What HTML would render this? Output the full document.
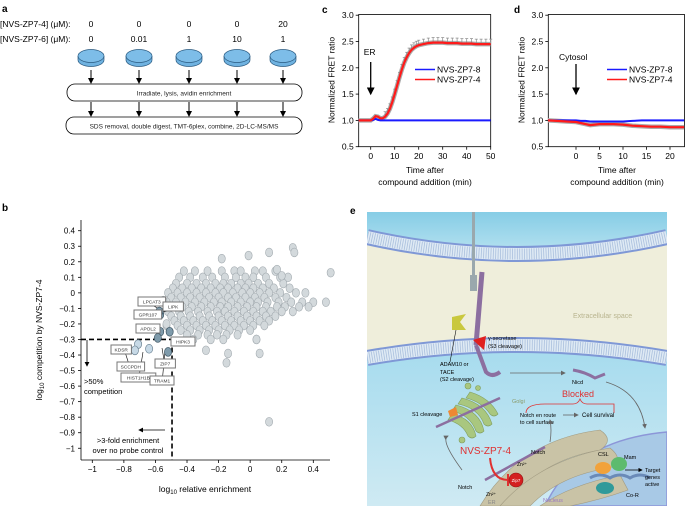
<!DOCTYPE html>
<html><head><meta charset="utf-8"><style>
html,body{margin:0;padding:0;background:#fff;width:685px;height:506px;overflow:hidden;}
svg{display:block;font-family:"Liberation Sans",sans-serif;overflow:hidden;}
</style></head><body>
<svg id="fig" width="685" height="506" viewBox="0 0 685 506" xmlns="http://www.w3.org/2000/svg">
<defs>
<clipPath id="eclip"><rect x="367" y="212" width="300" height="294"/></clipPath>
<clipPath id="dclip"><rect x="548" y="10" width="137" height="140"/></clipPath>
<linearGradient id="cyto" x1="0" y1="0" x2="0" y2="1"><stop offset="0" stop-color="#a5dbee"/><stop offset="1" stop-color="#cfeaf3"/></linearGradient>
<linearGradient id="topsky" x1="0" y1="0" x2="0" y2="1"><stop offset="0" stop-color="#86cde6"/><stop offset="1" stop-color="#b7e2f0"/></linearGradient>
<marker id="ah" markerWidth="6" markerHeight="6" refX="5" refY="3" orient="auto"><path d="M0,0 L6,3 L0,6 z" fill="#000"/></marker>
<marker id="ahg" markerWidth="6" markerHeight="6" refX="5" refY="3" orient="auto"><path d="M0,0 L6,3 L0,6 z" fill="#666"/></marker>
</defs>

<g font-weight="bold" font-size="10">
<text x="2" y="12">a</text>
<text x="322" y="13">c</text>
<text x="514" y="13">d</text>
<text x="2" y="211">b</text>
<text x="350" y="214">e</text>
</g>

<g id="panelA" font-size="8.5">
<text x="0" y="27">[NVS-ZP7-4] (μM):</text>
<text x="0" y="42">[NVS-ZP7-6] (μM):</text>
<rect x="67" y="84" width="235" height="17" rx="8" fill="#fff" stroke="#000" stroke-width="0.8"/>
<text x="184" y="95.5" font-size="6.5" text-anchor="middle" fill="#222">Irradiate, lysis, avidin enrichment</text>
<rect x="66" y="117" width="236" height="17" rx="8" fill="#fff" stroke="#000" stroke-width="0.8"/>
<text x="184" y="128.5" font-size="6.5" text-anchor="middle" fill="#222">SDS removal, double digest, TMT-6plex, combine, 2D-LC-MS/MS</text>
</g>

<g id="panelC"></g>
<g id="panelD"></g>
<g id="panelB"></g>

<g clip-path="url(#eclip)">
<rect x="367" y="212" width="300" height="294" fill="#efeedb"/>
<path d="M367,212 H667 V237 Q517,271 367,237 Z" fill="url(#topsky)"/>
<path d="M367,237 Q517,271 667,237" fill="none" stroke="#7f98d6" stroke-width="16"/>
<path d="M367,237 Q517,271 667,237" fill="none" stroke="#dfeaf4" stroke-width="12"/>
<path d="M367,237 Q517,271 667,237" fill="none" stroke="#a9bfdd" stroke-width="11" stroke-dasharray="0.8 1.6"/>
<path d="M367,358 Q517,332 667,358 V506 H367 Z" fill="url(#cyto)"/>
<path d="M367,358 Q517,332 667,358" fill="none" stroke="#7f98d6" stroke-width="16"/>
<path d="M367,358 Q517,332 667,358" fill="none" stroke="#dfeaf4" stroke-width="12"/>
<path d="M367,358 Q517,332 667,358" fill="none" stroke="#a9bfdd" stroke-width="11" stroke-dasharray="0.8 1.6"/>
<path d="M545,506 Q575,440 667,432 V506 Z" fill="#a8c9e6" stroke="#8c96d8" stroke-width="1.5"/>
<text x="573" y="318" font-size="7" fill="#b8b48e">Extracellular space</text>
<rect x="472" y="212" width="3" height="70" fill="#9aa8ad"/>
<rect x="470" y="275" width="7" height="16" fill="#9aa8ad"/>
<path d="M482,272 L476,345" stroke="#8c6fa0" stroke-width="5"/>
<path d="M476,345 L486,372 Q492,378 500,372" stroke="#8c6fa0" stroke-width="4" fill="none"/>
<path d="M452,317 L466,314 L460,322 L466,330 L452,330 Z" fill="#c9c83e"/>
<path d="M473,340 L486,336 L484,350 Z" fill="#e02020"/>
<line x1="456" y1="330" x2="450" y2="362" stroke="#000" stroke-width="0.6"/>
<text x="488" y="340" font-size="5.5">γ-secretase</text>
<text x="488" y="348" font-size="5.5">(S3 cleavage)</text>
<text x="440" y="366" font-size="5.5">ADAM10 or</text>
<text x="440" y="374" font-size="5.5">TACE</text>
<text x="440" y="381" font-size="5.5">(S2 cleavage)</text>
<line x1="510" y1="373" x2="565" y2="373" stroke="#666" stroke-width="0.8" marker-end="url(#ahg)"/>
<path d="M573,370 Q585,372 595,378 L605,374" stroke="#8c6fa0" stroke-width="3" fill="none"/>
<text x="572" y="384" font-size="5.5">Nicd</text>
<path d="M606,382 Q640,392 645,428" stroke="#666" stroke-width="0.8" fill="none" marker-end="url(#ahg)"/>
<text x="562" y="397" font-size="9" fill="#e03030">Blocked</text>
<path d="M526,413 Q526,404 545,404 L573,404 Q578,404 580,399 Q582,404 587,404 L614,404 Q614,404 614,413" stroke="#e03030" stroke-width="0.8" fill="none"/>
<text x="520" y="417" font-size="5.5">Notch en route</text>
<text x="520" y="424" font-size="5.5">to cell surface</text>
<line x1="563" y1="415" x2="578" y2="415" stroke="#666" stroke-width="0.8" marker-end="url(#ahg)"/>
<text x="582" y="417" font-size="6">Cell survival</text>
<g fill="#a9c77f" stroke="#7f9d5c" stroke-width="0.6">
<path d="M470,392 q20,6 28,22 q-4,4 -8,0 q-8,-12 -24,-16 z"/>
<path d="M462,398 q24,6 30,26 q-4,4 -8,0 q-6,-16 -26,-20 z"/>
<path d="M456,405 q24,6 28,26 q-4,4 -8,0 q-6,-16 -24,-20 z"/>
<path d="M452,414 q20,4 24,22 q-4,4 -8,0 q-5,-12 -20,-16 z"/>
<circle cx="468" cy="386" r="3"/><circle cx="478" cy="388" r="2.5"/><circle cx="462" cy="440" r="3"/>
</g>
<text x="512" y="403" font-size="5.5" fill="#8a9a6a">Golgi</text>
<text x="412" y="416" font-size="5.5">S1 cleavage</text>
<path d="M448,411 l8,-4 l2,8 l-8,2 z" fill="#ee8833"/>
<path d="M436,427 L500,398" stroke="#8c6fa0" stroke-width="2.5"/>
<g fill="#c9c3a6" stroke="#a19a80" stroke-width="0.6">
<path d="M480,506 Q520,440 600,430 Q615,440 600,450 Q540,460 505,506 Z"/>
<path d="M500,506 Q540,460 610,448 Q625,460 610,468 Q560,475 530,506 Z"/>
<path d="M540,506 Q570,485 620,475 L628,490 Q600,500 570,506 Z"/>
</g>
<path d="M485,480 L545,447" stroke="#8c6fa0" stroke-width="2.5"/>
<path d="M462,470 Q440,440 448,436" stroke="#666" stroke-width="0.8" fill="none" marker-end="url(#ahg)"/>
<path d="M550,442 Q552,430 550,420" stroke="#666" stroke-width="0.8" fill="none" marker-end="url(#ahg)"/>
<text x="460" y="454" font-size="10" fill="#e03030">NVS-ZP7-4</text>
<path d="M490,458 Q492,480 508,480" stroke="#e03030" stroke-width="2" fill="none"/>
<line x1="508" y1="474" x2="508" y2="486" stroke="#e03030" stroke-width="2"/>
<circle cx="516" cy="480" r="7" fill="#d42020" stroke="#901010" stroke-width="0.6"/>
<text x="516" y="482" font-size="4.5" fill="#fff" text-anchor="middle">Zip7</text>
<text x="531" y="454" font-size="5.5">Notch</text>
<text x="517" y="466" font-size="5">Zn²⁺</text>
<text x="458" y="489" font-size="5.5">Notch</text>
<text x="486" y="496" font-size="5">Zn²⁺</text>
<text x="488" y="504" font-size="5.5" fill="#888">ER</text>
<text x="543" y="502" font-size="5.5" fill="#9a78c0">Nucleus</text>
<path d="M590,478 q10,-6 20,0 q10,-6 20,0 q10,-6 20,0" stroke="#6a8ab8" stroke-width="3" fill="none"/>
<ellipse cx="603" cy="468" rx="8" ry="6" fill="#f2a23a"/>
<ellipse cx="619" cy="464" rx="8" ry="7" fill="#5dbb6e"/>
<ellipse cx="605" cy="488" rx="9" ry="6" fill="#2f9a9a"/>
<text x="598" y="456" font-size="5.5">CSL</text>
<text x="624" y="459" font-size="5.5">Mam</text>
<line x1="625" y1="470" x2="642" y2="470" stroke="#000" stroke-width="0.7" marker-end="url(#ah)"/>
<text x="645" y="472" font-size="5.5">Target</text>
<text x="645" y="479" font-size="5.5">genes</text>
<text x="645" y="486" font-size="5.5">active</text>
<text x="626" y="497" font-size="5.5">Co-R</text>
</g>
</svg>

<script>
var zp74Conc = ["0","0","0","0","20"];
var zp76Conc = ["0","0.01","1","10","1"];
var dishX = [91,139,189,237,283];

var cTime = [-5,-4,-3,-2,-1,0,1,2,3,4,5,6,7,8,9,10,11,12,13,14,15,16,17,18,19,20,22,24,26,28,30,32,34,36,38,40,42,44,46,48,50];
var cRed = [1,1,1,1,1,1,1.03,1.08,1.07,1.04,1.04,1.07,1.13,1.22,1.35,1.5,1.66,1.82,1.97,2.1,2.2,2.28,2.34,2.38,2.41,2.43,2.45,2.47,2.48,2.48,2.48,2.47,2.47,2.47,2.46,2.46,2.46,2.45,2.45,2.45,2.45];
var cBlue = [1,1,1,1,1,1,1.01,1.03,1.01,1,1,1,1,1,1,1,1,1,1,1,1,1,1,1,1,1,1,1,1,1,1,1,1,1,1,1,1,1,1,1,1];
var cXTicks = [0,10,20,30,40,50];
var dTime = [-6,-4,-2,0,1,2,3,4,5,6,8,10,12,14,16,18,20,22,23];
var dRed = [1,0.99,0.98,0.97,0.95,0.93,0.91,0.92,0.93,0.93,0.93,0.92,0.9,0.89,0.88,0.88,0.87,0.87,0.87];
var dBlue = [1,1,1,1,0.99,0.99,0.98,0.98,0.98,0.98,0.98,0.98,0.99,1,1,1,1,1,1];
var dXTicks = [0,5,10,15,20];
var fretYTicks = [0.5,1.0,1.5,2.0,2.5,3.0];

var cloudX = [
-0.42,-0.35,-0.27,-0.18,-0.10,-0.06,0.03,0.08,0.16,
-0.45,-0.38,-0.30,-0.24,-0.16,-0.09,-0.03,0.02,0.10,0.19,0.24,
-0.47,-0.40,-0.34,-0.28,-0.22,-0.17,-0.12,-0.06,-0.01,0.05,0.12,0.21,
-0.49,-0.43,-0.37,-0.31,-0.25,-0.19,-0.14,-0.08,-0.03,0.02,0.08,0.15,0.25,
-0.52,-0.46,-0.40,-0.34,-0.28,-0.22,-0.17,-0.11,-0.05,0.00,0.06,0.12,0.19,0.29,0.35,
-0.50,-0.44,-0.38,-0.32,-0.26,-0.20,-0.14,-0.09,-0.03,0.03,0.09,0.16,0.23,
-0.53,-0.47,-0.41,-0.35,-0.29,-0.23,-0.18,-0.12,-0.06,0.00,0.05,0.11,0.18,0.26,0.33,0.40,
-0.49,-0.43,-0.37,-0.31,-0.25,-0.19,-0.14,-0.08,-0.02,0.04,0.10,0.17,0.22,0.31,0.37,
-0.52,-0.45,-0.39,-0.33,-0.27,-0.21,-0.16,-0.10,-0.04,0.02,0.08,0.13,0.20,0.27,
-0.50,-0.44,-0.38,-0.32,-0.26,-0.20,-0.14,-0.08,-0.02,0.04,0.10,0.16,
-0.48,-0.42,-0.36,-0.30,-0.24,-0.18,-0.12,-0.06,0.00,0.06,0.12,
-0.53,-0.46,-0.40,-0.34,-0.28,-0.22,-0.16,-0.10,-0.04,0.02,0.09,
-0.44,-0.38,-0.32,-0.26,-0.20,-0.13,-0.07,0.00,
-0.40,-0.33,-0.27,-0.21,-0.15,-0.08,
-0.36,-0.25,-0.17,0.04,
0.12,-0.15,-0.14,0.06,0.04,-0.28,0.12,0.27,0.28,0.51,0.48,-0.18,-0.01,0.17,0.20,-0.55,-0.53];
var cloudY = [
0.14,0.14,0.14,0.14,0.14,0.14,0.14,0.14,0.14,
0.10,0.10,0.10,0.10,0.10,0.10,0.10,0.10,0.10,0.10,0.10,
0.06,0.06,0.06,0.06,0.06,0.06,0.06,0.06,0.06,0.06,0.06,0.06,
0.03,0.03,0.03,0.03,0.03,0.03,0.03,0.03,0.03,0.03,0.03,0.03,0.03,
0.00,0.00,0.00,0.00,0.00,0.00,0.00,0.00,0.00,0.00,0.00,0.00,0.00,0.00,0.00,
-0.03,-0.03,-0.03,-0.03,-0.03,-0.03,-0.03,-0.03,-0.03,-0.03,-0.03,-0.03,-0.03,
-0.06,-0.06,-0.06,-0.06,-0.06,-0.06,-0.06,-0.06,-0.06,-0.06,-0.06,-0.06,-0.06,-0.06,-0.06,-0.06,
-0.09,-0.09,-0.09,-0.09,-0.09,-0.09,-0.09,-0.09,-0.09,-0.09,-0.09,-0.09,-0.09,-0.09,-0.09,
-0.12,-0.12,-0.12,-0.12,-0.12,-0.12,-0.12,-0.12,-0.12,-0.12,-0.12,-0.12,-0.12,-0.12,
-0.15,-0.15,-0.15,-0.15,-0.15,-0.15,-0.15,-0.15,-0.15,-0.15,-0.15,-0.15,
-0.18,-0.18,-0.18,-0.18,-0.18,-0.18,-0.18,-0.18,-0.18,-0.18,-0.18,
-0.21,-0.21,-0.21,-0.21,-0.21,-0.21,-0.21,-0.21,-0.21,-0.21,-0.21,
-0.24,-0.24,-0.24,-0.24,-0.24,-0.24,-0.24,-0.24,
-0.27,-0.27,-0.27,-0.27,-0.27,-0.27,
-0.30,-0.30,-0.30,-0.30,
-0.83,-0.45,-0.39,-0.39,-0.30,-0.37,0.26,0.29,0.26,0.13,-0.06,0.22,0.24,0.15,0.11,-0.05,-0.20];
var hitX = [-0.57,-0.575,-0.57,-0.51,-0.585,-0.52];
var hitY = [-0.14,-0.12,-0.25,-0.25,-0.29,-0.38];
var weakX = [-0.71,-0.73,-0.64];
var weakY = [-0.33,-0.37,-0.36];
var bXTicks = [-1,-0.8,-0.6,-0.4,-0.2,0,0.2,0.4];
var bXLabels = ["\u22121","\u22120.8","\u22120.6","\u22120.4","\u22120.2","0","0.2","0.4"];
var bYTicks = [0.4,0.3,0.2,0.1,0,-0.1,-0.2,-0.3,-0.4,-0.5,-0.6,-0.7,-0.8,-0.9,-1];
var bYLabels = ["0.4","0.3","0.2","0.1","0","\u22120.1","\u22120.2","\u22120.3","\u22120.4","\u22120.5","\u22120.6","\u22120.7","\u22120.8","\u22120.9","\u22121"];
var competitionThreshold = -0.3;
var enrichmentThreshold = -0.495;

var NS = "http://www.w3.org/2000/svg";
function mk(parent, tag, attrs, txt){
  var e = document.createElementNS(NS, tag);
  for (var k in attrs) e.setAttribute(k, attrs[k]);
  if (txt !== undefined) e.textContent = txt;
  parent.appendChild(e);
  return e;
}

var pa = document.getElementById("panelA");
for (var i=0;i<dishX.length;i++){
  var t1 = mk(pa,"text",{x:dishX[i],y:27,"text-anchor":"middle"},zp74Conc[i]);
  
  
  var t2 = mk(pa,"text",{x:dishX[i],y:42,"text-anchor":"middle"},zp76Conc[i]);
  
  
  var dg = mk(pa,"g",{});
  
  
  mk(dg,"path",{d:"M"+(dishX[i]-13)+",56 v4 a13,6.5 0 0 0 26,0 v-4",fill:"#6fb2e0",stroke:"#2a5a80","stroke-width":0.7});
  mk(dg,"ellipse",{cx:dishX[i],cy:56,rx:13,ry:6.5,fill:"#7dbde8",stroke:"#2a5a80","stroke-width":0.7});
  mk(pa,"line",{x1:dishX[i],y1:70,x2:dishX[i],y2:83,stroke:"#000","stroke-width":1,"marker-end":"url(#ah)"});
  mk(pa,"line",{x1:dishX[i],y1:102,x2:dishX[i],y2:116,stroke:"#000","stroke-width":1,"marker-end":"url(#ah)"});
}

function yF(v){ return 146.7 - (v-0.5)*52.6; }
function buildFret(g, left, right, xs, ticks, time, red, blue, label, arrowT, legendX, titleX, errorBars, clip){
  mk(g,"rect",{x:left,y:14.5,width:right-left,height:132.2,fill:"none",stroke:"#000","stroke-width":0.8});
  for (var i=0;i<fretYTicks.length;i++){
    var y = yF(fretYTicks[i]);
    mk(g,"line",{x1:left-3,y1:y,x2:left,y2:y,stroke:"#000","stroke-width":0.8});
    var tl = mk(g,"text",{x:left-5,y:y+3,"font-size":8.5,"text-anchor":"end"},fretYTicks[i].toFixed(1));
    
    
  }
  for (var i=0;i<ticks.length;i++){
    var x = xs(ticks[i]);
    mk(g,"line",{x1:x,y1:146.7,x2:x,y2:149.7,stroke:"#000","stroke-width":0.8});
    var xl = mk(g,"text",{x:x,y:159,"font-size":8.5,"text-anchor":"middle"},String(ticks[i]));
    
    
  }
  var yt = mk(g,"text",{transform:"translate("+(left-24)+",80) rotate(-90)","font-size":8.5,"text-anchor":"middle"},"Normalized FRET ratio");
  
  
  var xt1 = mk(g,"text",{x:titleX,y:173,"font-size":8.5,"text-anchor":"middle"},"Time after");
  
  
  mk(g,"text",{x:titleX,y:185,"font-size":8.5,"text-anchor":"middle"},"compound addition (min)");
  var cg = mk(g,"g",clip?{"clip-path":"url(#dclip)"}:{});
  var pr="", pb="";
  for (var i=0;i<time.length;i++){
    pr += (i?"L":"M")+xs(time[i]).toFixed(1)+","+yF(red[i]).toFixed(1);
    pb += (i?"L":"M")+xs(time[i]).toFixed(1)+","+yF(blue[i]).toFixed(1);
  }
  var eb = mk(cg,"path",{d:pr,fill:"none",stroke:"#aaa","stroke-width":4.5});
  
  
  if (errorBars){
    for (var i=0;i<time.length;i++){
      if (time[i]<6) continue;
      var x=xs(time[i]), y=yF(red[i]);
      mk(cg,"line",{x1:x,y1:y-5,x2:x,y2:y,stroke:"#888","stroke-width":0.7});
      mk(cg,"line",{x1:x-1.5,y1:y-5,x2:x+1.5,y2:y-5,stroke:"#888","stroke-width":0.7});
    }
  }
  var bl = mk(cg,"path",{d:pb,fill:"none",stroke:"#1a1aff","stroke-width":2});
  
  
  var rl = mk(cg,"path",{d:pr,fill:"none",stroke:"#ff1a1a","stroke-width":2.2});
  
  
  var lg = mk(g,"g",{});
  
  
  mk(lg,"line",{x1:legendX,y1:69.5,x2:legendX+20,y2:69.5,stroke:"#1a1aff","stroke-width":1.5});
  mk(lg,"text",{x:legendX+22,y:72.5,"font-size":8.5},"NVS-ZP7-8");
  mk(lg,"line",{x1:legendX,y1:79.5,x2:legendX+20,y2:79.5,stroke:"#ff1a1a","stroke-width":1.5});
  mk(lg,"text",{x:legendX+22,y:82.5,"font-size":8.5},"NVS-ZP7-4");
  var ax = xs(arrowT);
  var al = mk(g,"text",{x:label==="ER"?ax-7:ax-17,y:label==="ER"?55:60,"font-size":8.5},label);
  
  
  mk(g,"line",{x1:ax,y1:label==="ER"?62:64,x2:ax,y2:94,stroke:"#000","stroke-width":1.3,"marker-end":"url(#ah)"});
}
function xC(t){ return 370.7 + t*2.4; }
function xD(t){ return 576 + t*4.7; }
buildFret(document.getElementById("panelC"),358.7,490.7,xC,cXTicks,cTime,cRed,cBlue,"ER",0,415,425,true,false);
buildFret(document.getElementById("panelD"),548.3,684.5,xD,dXTicks,dTime,dRed,dBlue,"Cytosol",0,607,617,false,true);

var pb = document.getElementById("panelB");
function xB(v){ return 92.3 + (v+1)*157.86; }
function yB(v){ return 230.7 + (0.4-v)*155.4; }
mk(pb,"line",{x1:81,y1:220,x2:81,y2:460,stroke:"#000","stroke-width":0.8});
mk(pb,"line",{x1:81,y1:460,x2:330,y2:460,stroke:"#000","stroke-width":0.8});
for (var i=0;i<bYTicks.length;i++){
  var y=yB(bYTicks[i]);
  mk(pb,"line",{x1:78,y1:y,x2:81,y2:y,stroke:"#000","stroke-width":0.8});
  var l = mk(pb,"text",{x:75,y:y+3,"font-size":8,"text-anchor":"end"},bYLabels[i]);
  
  
}
for (var i=0;i<bXTicks.length;i++){
  var x=xB(bXTicks[i]);
  mk(pb,"line",{x1:x,y1:460,x2:x,y2:463,stroke:"#000","stroke-width":0.8});
  var l = mk(pb,"text",{x:x,y:472,"font-size":8,"text-anchor":"middle"},bXLabels[i]);
  
  
}
var byt = mk(pb,"text",{transform:"translate(42,340) rotate(-90)","font-size":8.5,"text-anchor":"middle"});


byt.innerHTML = 'log<tspan font-size="6" dy="2">10</tspan><tspan dy="-2"> competition by NVS-ZP7-4</tspan>';
var bxt = mk(pb,"text",{x:205,y:492,"font-size":8.5,"text-anchor":"middle"});


bxt.innerHTML = 'log<tspan font-size="6" dy="2">10</tspan><tspan dy="-2"> relative enrichment</tspan>';
for (var i=0;i<cloudX.length;i++){
  var p = mk(pb,"ellipse",{cx:xB(cloudX[i]),cy:yB(cloudY[i]),rx:3.6,ry:4.4,fill:"#d3d9dc",stroke:"#a3abb0","stroke-width":0.6});
  
  
}
mk(pb,"line",{x1:81,y1:yB(competitionThreshold),x2:xB(enrichmentThreshold),y2:yB(competitionThreshold),stroke:"#000","stroke-width":1.6,"stroke-dasharray":"5 3"});
mk(pb,"line",{x1:xB(enrichmentThreshold),y1:yB(competitionThreshold),x2:xB(enrichmentThreshold),y2:460,stroke:"#000","stroke-width":1.6,"stroke-dasharray":"5 3"});
var boxes = [[138,301,"LPCAT3",165,312],[134,314,"GPR107",163,316],[136,328,"APOL2",161,332],[163,306,"LIPK",163,312],[171,341,"HIPK3",169,339],[111,349,"KDSR",122,348],[117,366,"SCCPDH",125,352],[121,377,"HIST1H1B",143,352],[155,363,"ZIP7",162,348],[150,380,"TRAM1",165,350]];
for (var i=0;i<boxes.length;i++){
  var b=boxes[i], w=b[2].length*3.6+6;
  mk(pb,"line",{x1:b[0]+w/2,y1:b[1]+4,x2:b[3],y2:b[4],stroke:"#000","stroke-width":0.6});
}
for (var i=0;i<weakX.length;i++){
  var p = mk(pb,"ellipse",{cx:xB(weakX[i]),cy:yB(weakY[i]),rx:3.6,ry:4.4,fill:"#c7d9e6",stroke:"#6e8595","stroke-width":0.7});
  
  
}
for (var i=0;i<hitX.length;i++){
  var p = mk(pb,"ellipse",{cx:xB(hitX[i]),cy:yB(hitY[i]),rx:3.6,ry:4.4,fill:"#7f9bab",stroke:"#3e5563","stroke-width":0.7});
  
  
}
for (var i=0;i<boxes.length;i++){
  var b=boxes[i], w=b[2].length*3.6+6;
  var bg = mk(pb,"g",{});
  
  
  mk(bg,"rect",{x:b[0],y:b[1]-4,width:w,height:9,fill:"#fff",stroke:"#777","stroke-width":1});
  mk(bg,"text",{x:b[0]+w/2,y:b[1]+2.5,"font-size":4.8,"text-anchor":"middle",fill:"#333"},b[2]);
}
mk(pb,"line",{x1:87,y1:340,x2:87,y2:366,stroke:"#000","stroke-width":0.8,"marker-end":"url(#ah)"});
var t50 = mk(pb,"text",{x:84,y:384,"font-size":7.5},">50%");


mk(pb,"text",{x:84,y:394,"font-size":7.5},"competition");
mk(pb,"line",{x1:165,y1:430,x2:139,y2:430,stroke:"#000","stroke-width":0.8,"marker-end":"url(#ah)"});
var t3 = mk(pb,"text",{x:128,y:443,"font-size":7.5,"text-anchor":"middle"},">3-fold enrichment");


mk(pb,"text",{x:128,y:453,"font-size":7.5,"text-anchor":"middle"},"over no probe control");
</script>
</body></html>
